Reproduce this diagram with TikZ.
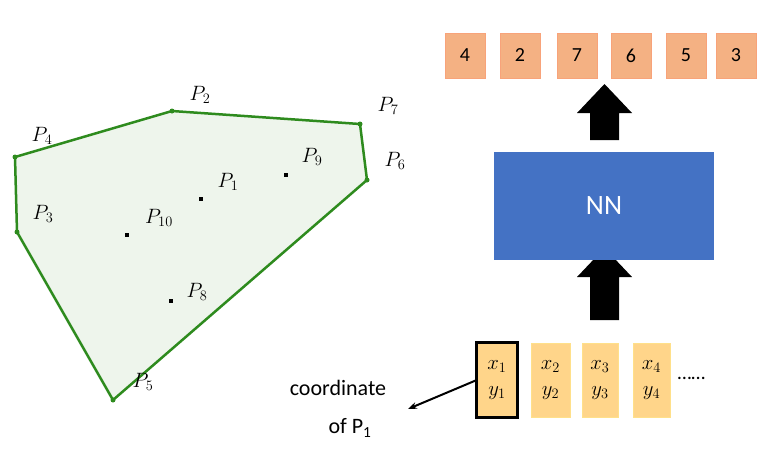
\documentclass[tikz,border=0pt]{standalone}
\usetikzlibrary{arrows.meta}
\usepackage{fontspec}
\newfontfamily\sansf{Carlito}
\definecolor{nnblue}{HTML}{4472C4}
\definecolor{outfill}{HTML}{F4B183}
\definecolor{outdraw}{HTML}{F8A37A}
\definecolor{infill}{HTML}{FFD58A}
\definecolor{indraw}{HTML}{FFE08A}
\definecolor{polyfill}{HTML}{EEF5EC}
\definecolor{polyline}{HTML}{2E8B1E}
\begin{document}
\begin{tikzpicture}[x=1pt,y=-1pt,
  vtx/.style={circle,fill=polyline,inner sep=0pt,minimum size=5pt},
  pt/.style={fill=black,inner sep=0pt,minimum size=4.5pt},
  lab/.style={font=\fontsize{20}{22}\selectfont},
  outb/.style={draw=outdraw,fill=outfill,minimum width=40pt,minimum height=45pt,inner sep=0pt,font=\sansf\fontsize{20}{22}\selectfont},
  inb/.style={draw=indraw,fill=infill,minimum height=74pt,inner sep=0pt,align=center,font=\fontsize{20}{26}\selectfont},
  bigarr/.style={fill=black}]
\useasboundingbox (0,0) rectangle (772,456);
% polygon
\coordinate (P4) at (15,157); \coordinate (P2) at (172,111); \coordinate (P7) at (360,124);
\coordinate (P6) at (367,180); \coordinate (P5) at (113,400); \coordinate (P3) at (17,232);
\draw[polyline,line width=2.5pt,fill=polyfill] (P4)--(P2)--(P7)--(P6)--(P5)--(P3)--cycle;
\foreach \p in {P4,P2,P7,P6,P5,P3} \node[vtx] at (\p) {};
\node[lab] (l2) at (200,95) {$P_2$};
\node[lab] (l7) at (388,106) {$P_7$};
\node[lab] (l4) at (42,136) {$P_4$};
\node[lab] (l6) at (395,161) {$P_6$};
\node[lab] (l3) at (43,214) {$P_3$};
\node[lab] (l5) at (143,382) {$P_5$};
\node[pt] (p1) at (201,199) {}; \node[lab] at (228,182) {$P_1$};
\node[pt] (p9) at (286,175) {}; \node[lab] at (312,157) {$P_9$};
\node[pt] (p10) at (127,235) {}; \node[lab] at (159,218) {$P_{10}$};
\node[pt] (p8) at (171,301) {}; \node[lab] at (197,292) {$P_8$};
% outputs
\foreach \x/\t [count=\i] in {465/4,520/2,577/7,631/6,686/5,736/3}
  \node[outb] (o\i) at (\x,55.5) {\t};
% arrows
\fill[bigarr] (590,140)--(590,113)--(577,113)--(604.5,84)--(632,113)--(619,113)--(619,140)--cycle;
\fill[bigarr] (590,320)--(590,277)--(577,277)--(604.5,248)--(632,277)--(619,277)--(619,320)--cycle;
\node[fill=nnblue,minimum width=220pt,minimum height=108pt,text=white,font=\sansf\fontsize{28}{30}\selectfont] (nn) at (604,206) {NN};
% inputs
\node[inb,minimum width=40pt] (i1) at (497,380) {$x_1$\\$y_1$};
\draw[line width=3pt] (i1.south west) rectangle (i1.north east);
\node[inb,minimum width=39pt] (i2) at (550.5,380) {$x_2$\\$y_2$};
\node[inb,minimum width=36pt] (i3) at (600,380) {$x_3$\\$y_3$};
\node[inb,minimum width=37pt] (i4) at (651.5,380) {$x_4$\\$y_4$};
\node[font=\sansf\fontsize{20}{22}\selectfont,anchor=west] (dots) at (674,378) {……};
\node[font=\sansf\fontsize{22}{24}\selectfont] (c1) at (338,388) {coordinate};
\node[font=\sansf\fontsize{22}{24}\selectfont] (c2) at (350,428) {of P\textsubscript{1}};
\coordinate (ae) at (408,409);
\draw[line width=2pt,-{Stealth[length=9pt]}] (i1.west) -- (ae);
\end{tikzpicture}
\end{document}
